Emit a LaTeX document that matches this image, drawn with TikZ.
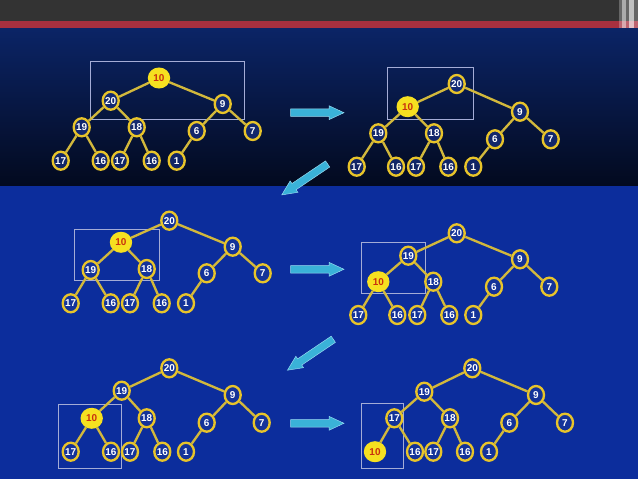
\documentclass[tikz,border=0pt]{standalone}
\usepackage{fontspec}
\setsansfont{Liberation Sans}
\usetikzlibrary{shapes.geometric,shapes.arrows}

\definecolor{slidebar}{HTML}{333333}
\definecolor{slidered}{HTML}{A8303F}
\definecolor{paneltop}{HTML}{0B2466}
\definecolor{panelbottom}{HTML}{030A1F}
\definecolor{slideblue}{HTML}{0C2D9C}
\definecolor{keyring}{HTML}{E8C42A}
\definecolor{keyfill}{HTML}{1C3898}
\definecolor{linkgold}{HTML}{D2B83C}
\definecolor{hotfill}{HTML}{F6E020}
\definecolor{hottext}{HTML}{C8300E}
\definecolor{framegray}{HTML}{A4ACD6}
\definecolor{arrowfill}{HTML}{3AB2D8}
\definecolor{arrowedge}{HTML}{9ADCF2}

% one heap: nodes a..l, then the links between them
\newcommand{\heaptree}[2]{%
  \foreach \n/\x/\y/\t/\s in {#2}
    \node[\s] (#1\n) at (\x,\y) {\t};
  \foreach \a/\b in {a/b,a/c,b/d,b/e,c/f,c/g,d/h,d/i,e/j,e/k,f/l}
    \draw[link] (#1\a) -- (#1\b);
}

\begin{document}
\begin{tikzpicture}[
    x=0.03cm, y=-0.03cm,
    key/.style={ellipse, draw=keyring, line width=2pt, fill=keyfill, fill opacity=0.55,
        draw opacity=1, text opacity=1, text=white,
        inner sep=0pt, minimum width=0.48cm, minimum height=0.54cm,
        font=\sffamily\bfseries\fontsize{8.5}{9}\selectfont},
    hot/.style={key, fill=hotfill, fill opacity=1, draw=hotfill, text=hottext,
        minimum width=0.6cm, minimum height=0.56cm},
    link/.style={draw=linkgold, line width=2pt},
    frame/.style={draw=framegray, line width=0.8pt},
    bigarrow/.style={single arrow, draw=arrowedge, fill=arrowfill, line width=0.4pt,
        inner xsep=0pt, inner ysep=0.105cm, minimum width=0.4cm, minimum height=1.6cm,
        single arrow head extend=0.095cm, single arrow tip angle=50}
]
\useasboundingbox (0,0) rectangle (638,479);

% Slide background
\fill[slideblue] (0,185) rectangle (638,479);
\shade[top color=paneltop, bottom color=panelbottom] (0,28) rectangle (638,185);
\fill[slidebar] (0,0) rectangle (638,21);
\fill[slidered] (0,21) rectangle (638,28);
\fill[white, opacity=0.25] (619,0) rectangle (638,28);
\fill[white, opacity=0.45] (622,0) rectangle (626,28);
\fill[white, opacity=0.6] (629,0) rectangle (634,28);

% Frames round the two keys being compared
\draw[frame] (90,61) rectangle (244,119.3);
\draw[frame] (387.7,67.3) rectangle (473.3,119.3);
\draw[frame] (74,229.3) rectangle (159,280.7);
\draw[frame] (361.7,242.3) rectangle (425,293.3);
\draw[frame] (58.3,404) rectangle (121.7,468.3);
\draw[frame] (361,403.3) rectangle (403.3,468.3);

% Heaps
\heaptree{s}{a/159/78/10/hot, b/110.7/100.7/20/key, c/222.7/104/9/key,
  d/81.7/127.3/19/key, e/136.7/127.3/18/key, f/196.7/131/6/key, g/252.7/131/7/key,
  h/60.7/160.7/17/key, i/100.7/160.7/16/key, j/120/160.7/17/key,
  k/151.7/160.7/16/key, l/176.7/160.7/1/key}
\heaptree{t}{a/456.7/84/20/key, b/407.7/106.7/10/hot, c/520/111.7/9/key,
  d/378.3/133.3/19/key, e/434/133.3/18/key, f/495/139.3/6/key, g/550.7/139.3/7/key,
  h/356.7/166.7/17/key, i/396/166.7/16/key, j/416/166.7/17/key,
  k/448.3/166.7/16/key, l/473.3/166.7/1/key}
\heaptree{u}{a/169.3/220.7/20/key, b/121/242.3/10/hot, c/232.7/246.7/9/key,
  d/90.7/270/19/key, e/146.7/269/18/key, f/206.7/273.3/6/key, g/262.7/273.3/7/key,
  h/70.7/303.3/17/key, i/110.7/303.3/16/key, j/130/303.3/17/key,
  k/161.7/303.3/16/key, l/186/303.3/1/key}
\heaptree{v}{a/456.7/233.3/20/key, b/408.3/255.7/19/key, c/520/259.3/9/key,
  d/378.3/281.7/10/hot, e/433.3/281.7/18/key, f/494/286.7/6/key, g/549.3/286.7/7/key,
  h/358.3/315/17/key, i/397.3/315/16/key, j/417.3/315/17/key,
  k/449.3/315/16/key, l/473.3/315/1/key}
\heaptree{w}{a/169.3/368.3/20/key, b/121.7/390.7/19/key, c/232.7/395/9/key,
  d/91.7/418.3/10/hot, e/146.7/418.3/18/key, f/206.7/422.7/6/key, g/261.7/422.7/7/key,
  h/70.7/451.7/17/key, i/111/451.7/16/key, j/130/451.7/17/key,
  k/162.3/451.7/16/key, l/186/451.7/1/key}
\heaptree{z}{a/472.3/368.3/20/key, b/424.3/391.7/19/key, c/536/395/9/key,
  d/394.3/418.3/17/key, e/450/418.3/18/key, f/509.3/422.7/6/key, g/565/422.7/7/key,
  h/375/451.7/10/hot, i/415/451.7/16/key, j/433.3/451.7/17/key,
  k/465/451.7/16/key, l/489/451.7/1/key}

% Steps
\node[bigarrow] (step1) at (313.3,112.7) {};
\node[bigarrow, rotate=214, minimum height=1.66cm] (back1) at (308,177.2) {};
\node[bigarrow] (step2) at (313.3,269.3) {};
\node[bigarrow, rotate=214, minimum height=1.66cm] (back2) at (313.7,352.5) {};
\node[bigarrow] (step3) at (313.3,423.3) {};

\end{tikzpicture}
\end{document}
